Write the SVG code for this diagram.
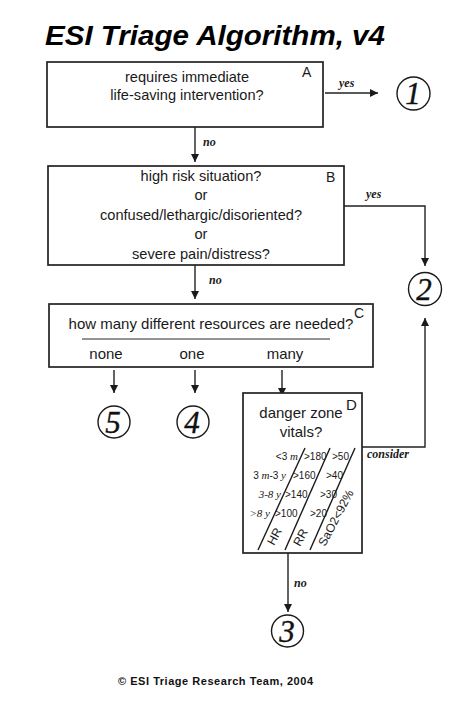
<svg xmlns="http://www.w3.org/2000/svg" width="474" height="711" viewBox="0 0 474 711">
<defs>
<marker id="arr" viewBox="0 0 10 10" refX="10" refY="5" markerWidth="8" markerHeight="8" markerUnits="userSpaceOnUse" orient="auto">
<path d="M0,0 L10,5 L0,10 z" fill="#1a1a1a"/>
</marker>
<style>
.box{fill:#fff;stroke:#222;stroke-width:1.7}
.ln{fill:none;stroke:#222;stroke-width:1.4}
.t{font-family:"Liberation Sans",Arial,sans-serif;font-size:14.6px;fill:#1a1a1a;text-anchor:middle}
.tc{font-size:15px}
.lt{font-family:"Liberation Sans",Arial,sans-serif;font-size:14px;fill:#1a1a1a}
.lbl{font-family:"Liberation Serif","Times New Roman",serif;font-style:italic;font-weight:bold;font-size:12px;fill:#1a1a1a}
.circ{fill:#fff;stroke:#1a1a1a;stroke-width:1.4}
.num{font-family:"Liberation Serif","Times New Roman",serif;font-style:italic;font-size:31px;fill:#111;stroke:#111;stroke-width:0.4;text-anchor:middle}
.v{font-family:"Liberation Sans",Arial,sans-serif;font-size:10px;fill:#1a1a1a}
.vr{font-family:"Liberation Sans",Arial,sans-serif;font-size:12px;fill:#1a1a1a}
.vl{fill:none;stroke:#1a1a1a;stroke-width:1.4}
.i{font-style:italic;font-family:"Liberation Serif","Times New Roman",serif;font-size:11px}
</style>
</defs>
<rect width="474" height="711" fill="#fff"/>
<text id="title" x="45" y="45" font-family="Liberation Sans,Arial,sans-serif" font-weight="bold" font-style="italic" font-size="28" textLength="340" lengthAdjust="spacingAndGlyphs" fill="#000">ESI Triage Algorithm, v4</text>

<g id="connectors">
<line class="ln" x1="325" y1="93" x2="378" y2="93" marker-end="url(#arr)"/>
<line class="ln" x1="195" y1="127" x2="195" y2="162" marker-end="url(#arr)"/>
<polyline class="ln" points="344,206 425,206 425,266" marker-end="url(#arr)"/>
<line class="ln" x1="195" y1="265" x2="195" y2="299" marker-end="url(#arr)"/>
<line class="ln" x1="114" y1="370" x2="114" y2="393" marker-end="url(#arr)"/>
<line class="ln" x1="195" y1="370" x2="195" y2="393" marker-end="url(#arr)"/>
<line class="ln" x1="282" y1="370" x2="282" y2="396" marker-end="url(#arr)"/>
<polyline class="ln" points="362,447 425,447 425,318" marker-end="url(#arr)"/>
<line class="ln" x1="288" y1="553" x2="288" y2="612" marker-end="url(#arr)"/>
<text class="lbl" x="339" y="87">yes</text>
<text class="lbl" x="203" y="146">no</text>
<text class="lbl" x="366" y="198">yes</text>
<text class="lbl" x="209" y="284">no</text>
<text class="lbl" x="367" y="458">consider</text>
<text class="lbl" x="294" y="587">no</text>
</g>

<g id="nodeA">
<rect class="box" x="47" y="62" width="276" height="65"/>
<text class="t" x="187" y="82">requires immediate</text>
<text class="t" x="187" y="100">life-saving intervention?</text>
<text class="lt" x="302" y="77">A</text>
</g>

<g id="nodeB">
<rect class="box" x="48" y="166" width="296" height="99"/>
<text class="t" x="201" y="181">high risk situation?</text>
<text class="t" x="201" y="200">or</text>
<text class="t" x="201" y="220">confused/lethargic/disoriented?</text>
<text class="t" x="201" y="239">or</text>
<text class="t" x="201" y="259">severe pain/distress?</text>
<text class="lt" x="326" y="182">B</text>
</g>

<g id="nodeC">
<rect class="box" x="49" y="304" width="324" height="63"/>
<text class="t tc" x="211" y="329">how many different resources are needed?</text>
<line x1="82" y1="339" x2="330" y2="339" stroke="#2a2a2a" stroke-width="1.2"/>
<text class="t tc" x="106" y="359">none</text>
<text class="t tc" x="192" y="359">one</text>
<text class="t tc" x="285" y="359">many</text>
<text class="lt" x="354" y="318">C</text>
</g>

<g id="nodeD">
<rect class="box" x="243" y="393" width="119" height="160"/>
<text class="t tc" x="301" y="418">danger zone</text>
<text class="t tc" x="301" y="437">vitals?</text>
<text class="lt" x="346" y="410" style="font-size:15px">D</text>
<line class="vl" x1="305" y1="448" x2="258" y2="550"/>
<line class="vl" x1="330" y1="448" x2="285" y2="550"/>
<line class="vl" x1="355" y1="448" x2="310" y2="550"/>
<text class="v" x="298" y="460" text-anchor="end">&lt;3 <tspan class="i">m</tspan></text>
<text class="v" x="304" y="460">&gt;180</text>
<text class="v" x="332" y="460">&gt;50</text>
<text class="v" x="286" y="479" text-anchor="end">3 <tspan class="i">m</tspan>-3 <tspan class="i">y</tspan></text>
<text class="v" x="293" y="479">&gt;160</text>
<text class="v" x="326" y="479">&gt;40</text>
<text class="v" x="281" y="498" text-anchor="end"><tspan class="i">3-8 y</tspan></text>
<text class="v" x="285" y="498">&gt;140</text>
<text class="v" x="320" y="498">&gt;30</text>
<text class="v" x="270" y="517" text-anchor="end"><tspan class="i">&gt;8 y</tspan></text>
<text class="v" x="275" y="517">&gt;100</text>
<text class="v" x="310" y="517">&gt;20</text>
<text class="vr" transform="translate(274,546) rotate(-62)">HR</text>
<text class="vr" transform="translate(300,547) rotate(-62)">RR</text>
<text class="vr" transform="translate(325,547) rotate(-62)">SaO2&lt;92%</text>
</g>

<g id="level1"><circle class="circ" cx="413.5" cy="93.5" r="16.5"/><text class="num" x="413" y="104">1</text></g>
<g id="level2"><circle class="circ" cx="425" cy="289" r="16.5"/><text class="num" x="424" y="299.5">2</text></g>
<g id="level3"><circle class="circ" cx="287.5" cy="631" r="16"/><text class="num" x="287" y="641.5">3</text></g>
<g id="level4"><circle class="circ" cx="193" cy="422" r="16"/><text class="num" x="192" y="432.5">4</text></g>
<g id="level5"><circle class="circ" cx="114" cy="422" r="16"/><text class="num" x="113" y="432.5">5</text></g>

<text id="footer" x="118" y="685" font-family="Liberation Sans,Arial,sans-serif" font-weight="bold" font-size="11" textLength="195" fill="#111">© ESI Triage Research Team, 2004</text>
</svg>
